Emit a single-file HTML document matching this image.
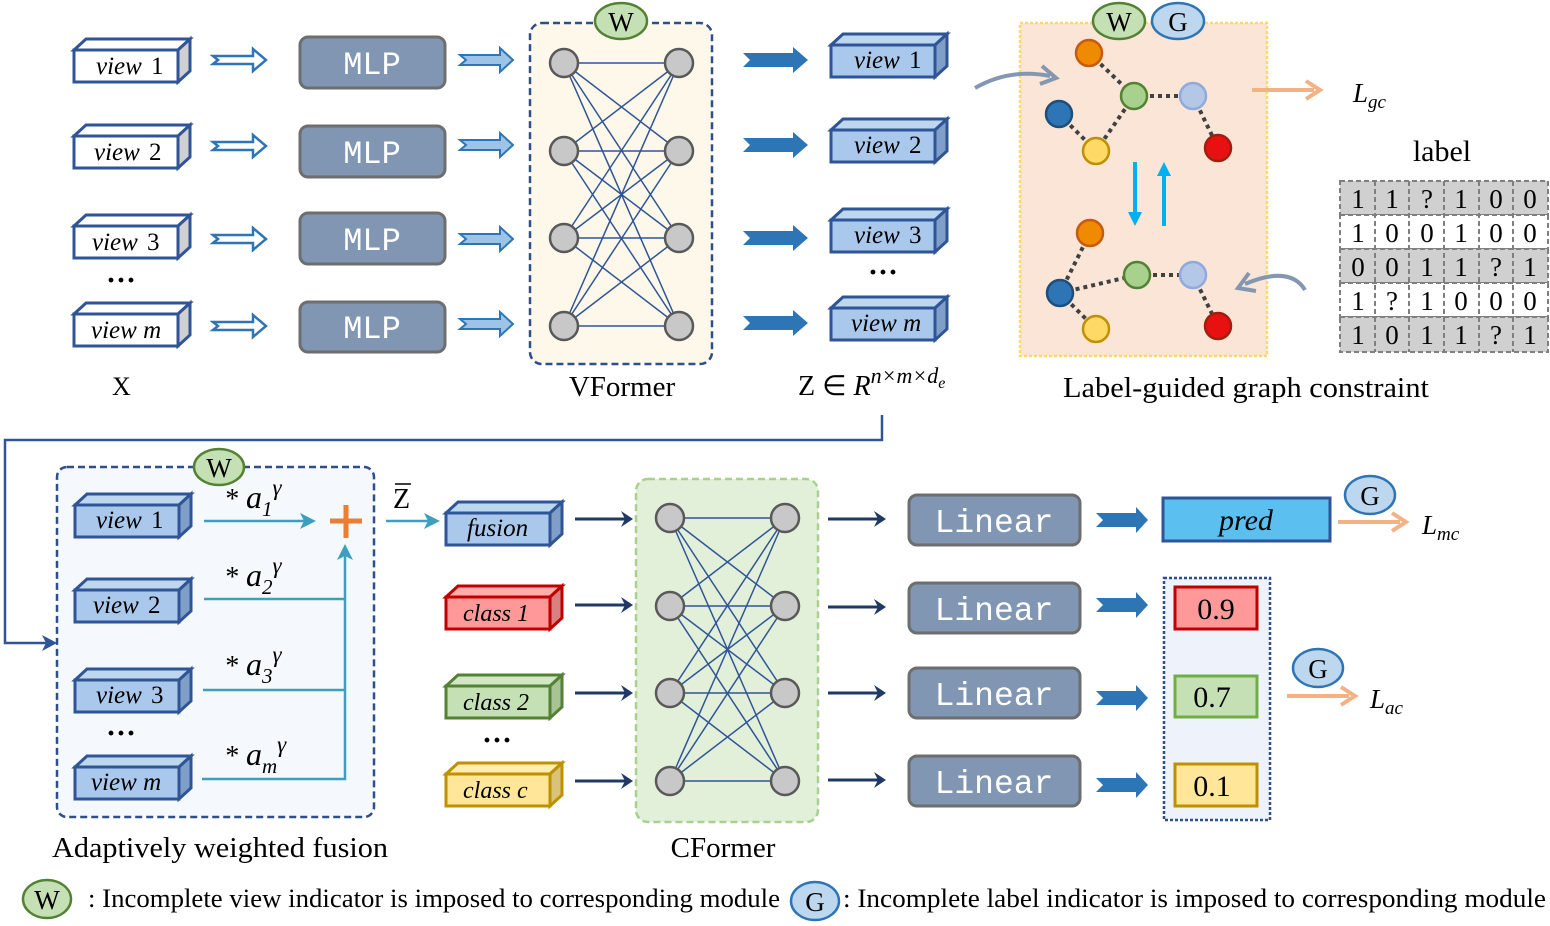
<!DOCTYPE html>
<html><head><meta charset="utf-8"><style>
html,body{margin:0;padding:0;background:#fff;}
svg{display:block;}
.t{font-family:"Liberation Serif",serif;fill:#000;}
.i{font-family:"Liberation Serif",serif;font-style:italic;fill:#000;}
.m{font-family:"Liberation Mono",monospace;fill:#fff;}
</style></head><body>
<svg width="1550" height="926" viewBox="0 0 1550 926" xmlns="http://www.w3.org/2000/svg">
<defs>
<g id="wbox"><rect x="0" y="0" width="104" height="32" fill="#fff" stroke="#2f5597" stroke-width="3"/><polygon points="0,0 12,-11 116,-11 104,0" fill="#fff" stroke="#2f5597" stroke-width="3"/><polygon points="104,0 116,-11 116,21 104,32" fill="#d0d0d0" stroke="#2f5597" stroke-width="3"/></g>
<g id="bbox"><rect x="0" y="0" width="104" height="32" fill="#a9c8ec" stroke="#2f5597" stroke-width="3"/><polygon points="0,0 12,-11 116,-11 104,0" fill="#bdd7ee" stroke="#2f5597" stroke-width="3"/><polygon points="104,0 116,-11 116,21 104,32" fill="#7f9fc8" stroke="#2f5597" stroke-width="3"/></g>
<g id="rbox"><rect x="0" y="0" width="104" height="32" fill="#ff9999" stroke="#c00000" stroke-width="3"/><polygon points="0,0 12,-11 116,-11 104,0" fill="#ffadad" stroke="#c00000" stroke-width="3"/><polygon points="104,0 116,-11 116,21 104,32" fill="#d98080" stroke="#c00000" stroke-width="3"/></g>
<g id="gbox"><rect x="0" y="0" width="104" height="32" fill="#c5e0b4" stroke="#548235" stroke-width="3"/><polygon points="0,0 12,-11 116,-11 104,0" fill="#d2e8c4" stroke="#548235" stroke-width="3"/><polygon points="104,0 116,-11 116,21 104,32" fill="#a8c496" stroke="#548235" stroke-width="3"/></g>
<g id="ybox"><rect x="0" y="0" width="104" height="32" fill="#ffe699" stroke="#bf9000" stroke-width="3"/><polygon points="0,0 12,-11 116,-11 104,0" fill="#ffeeb0" stroke="#bf9000" stroke-width="3"/><polygon points="104,0 116,-11 116,21 104,32" fill="#d9c27a" stroke="#bf9000" stroke-width="3"/></g>
<g id="hollow"><polygon points="0,-4 40,-4 40,-11 53,0 40,11 40,4 0,4 5,0" fill="#fff" stroke="#2e75b6" stroke-width="2.5"/></g>
<g id="lblue"><polygon points="0,-5 40,-5 40,-12 53,0 40,12 40,5 0,5 6,0" fill="#9dc3e6" stroke="#2e75b6" stroke-width="2"/></g>
<g id="dblue"><polygon points="0,-7 50,-7 50,-13 65,0 50,13 50,7 0,7 7,0" fill="#2e75b6"/></g>
<g id="tblue"><polygon points="0,-7 40,-7 40,-13 52,0 40,13 40,7 0,7 7,0" fill="#2e75b6"/></g>
<g id="narr"><line x1="0" y1="0" x2="54" y2="0" stroke="#1f3864" stroke-width="3"/><polygon points="46,-8 58,0 46,8 50,0" fill="#1f3864"/></g>
<g id="oarr"><line x1="0" y1="0" x2="62" y2="0" stroke="#f4b183" stroke-width="4"/><polyline points="54,-9 68,0 54,9" fill="none" stroke="#f4b183" stroke-width="4"/></g>
</defs>

<!-- Top: X views -->
<use href="#wbox" x="74" y="50"/><text class="i" x="96" y="74" font-size="25">view</text><text class="t" x="151" y="74" font-size="25">1</text>
<use href="#wbox" x="74" y="136"/><text class="i" x="94" y="160" font-size="25">view</text><text class="t" x="149" y="160" font-size="25">2</text>
<use href="#wbox" x="74" y="226"/><text class="i" x="92" y="250" font-size="25">view</text><text class="t" x="147" y="250" font-size="25">3</text>
<use href="#wbox" x="74" y="314"/><text class="i" x="91" y="338" font-size="25">view m</text>
<text class="t" x="106" y="290" font-size="30" font-weight="bold">···</text>
<text class="t" x="112" y="395" font-size="26">X</text>

<use href="#hollow" x="213" y="60"/><use href="#hollow" x="213" y="146"/><use href="#hollow" x="213" y="239"/><use href="#hollow" x="213" y="326"/>

<g fill="#8096b2" stroke="#6e6e6e" stroke-width="3">
<rect x="300" y="37" width="145" height="51" rx="8"/><rect x="300" y="126" width="145" height="51" rx="8"/><rect x="300" y="213" width="145" height="51" rx="8"/><rect x="300" y="302" width="145" height="50" rx="8"/>
</g>
<g class="m" font-size="32" text-anchor="middle"><text x="372" y="74">MLP</text><text x="372" y="163">MLP</text><text x="372" y="250">MLP</text><text x="372" y="338">MLP</text></g>

<use href="#lblue" x="460" y="60"/><use href="#lblue" x="460" y="145"/><use href="#lblue" x="460" y="239"/><use href="#lblue" x="460" y="324"/>

<!-- VFormer -->
<rect x="530" y="23" width="182" height="341" rx="12" fill="#fdf8ea" stroke="#2f4f8a" stroke-width="2.5" stroke-dasharray="7,4"/>
<g stroke="#2f5597" stroke-width="1.5">
<line x1="564" y1="63" x2="679" y2="63"/><line x1="564" y1="63" x2="679" y2="151"/><line x1="564" y1="63" x2="679" y2="238"/><line x1="564" y1="63" x2="679" y2="326"/>
<line x1="564" y1="151" x2="679" y2="63"/><line x1="564" y1="151" x2="679" y2="151"/><line x1="564" y1="151" x2="679" y2="238"/><line x1="564" y1="151" x2="679" y2="326"/>
<line x1="564" y1="238" x2="679" y2="63"/><line x1="564" y1="238" x2="679" y2="151"/><line x1="564" y1="238" x2="679" y2="238"/><line x1="564" y1="238" x2="679" y2="326"/>
<line x1="564" y1="326" x2="679" y2="63"/><line x1="564" y1="326" x2="679" y2="151"/><line x1="564" y1="326" x2="679" y2="238"/><line x1="564" y1="326" x2="679" y2="326"/>
</g>
<g fill="#c8c8c8" stroke="#595959" stroke-width="2.5">
<circle cx="564" cy="63" r="14"/><circle cx="564" cy="151" r="14"/><circle cx="564" cy="238" r="14"/><circle cx="564" cy="326" r="14"/>
<circle cx="679" cy="63" r="14"/><circle cx="679" cy="151" r="14"/><circle cx="679" cy="238" r="14"/><circle cx="679" cy="326" r="14"/>
</g>
<ellipse cx="621" cy="21" rx="26" ry="18" fill="#c5e0b4" stroke="#548235" stroke-width="2.5"/><text class="t" x="621" y="31" font-size="27" text-anchor="middle">W</text>
<text class="t" x="622" y="396" font-size="29" text-anchor="middle">VFormer</text>

<use href="#dblue" x="743" y="60"/><use href="#dblue" x="743" y="145"/><use href="#dblue" x="743" y="238"/><use href="#dblue" x="743" y="323"/>

<use href="#bbox" x="831" y="45"/><text class="i" x="854" y="68" font-size="25">view</text><text class="t" x="909" y="68" font-size="25">1</text>
<use href="#bbox" x="831" y="130"/><text class="i" x="854" y="153" font-size="25">view</text><text class="t" x="909" y="153" font-size="25">2</text>
<use href="#bbox" x="831" y="220"/><text class="i" x="854" y="243" font-size="25">view</text><text class="t" x="909" y="243" font-size="25">3</text>
<use href="#bbox" x="831" y="308"/><text class="i" x="851" y="331" font-size="25">view m</text>
<text class="t" x="868" y="282" font-size="30" font-weight="bold">···</text>
<text class="t" x="798" y="395" font-size="28">Z ∈ <tspan class="i">R</tspan><tspan font-size="22" dy="-12" class="i">n×m×d</tspan><tspan font-size="16" dy="5" class="i">e</tspan></text>

<!-- connector -->
<polyline points="882,415 882,440 5,440 5,643 50,643" fill="none" stroke="#2f5597" stroke-width="2.5"/>
<polygon points="42,635 57,643 42,651 46,643" fill="#2f5597"/>

<!-- Graph constraint -->
<rect x="1020" y="23" width="247" height="333" fill="#fbe5d6" stroke="#ffd966" stroke-width="2.5" stroke-dasharray="3,2"/>
<g stroke="#404040" stroke-width="4" stroke-dasharray="4,4">
<line x1="1089" y1="53" x2="1134" y2="96"/><line x1="1134" y1="96" x2="1096" y2="151"/><line x1="1059" y1="114" x2="1096" y2="151"/><line x1="1134" y1="96" x2="1193" y2="96"/><line x1="1193" y1="96" x2="1218" y2="148"/>
<line x1="1090" y1="233" x2="1060" y2="293"/><line x1="1060" y1="293" x2="1137" y2="275"/><line x1="1137" y1="275" x2="1193" y2="275"/><line x1="1060" y1="293" x2="1096" y2="329"/><line x1="1193" y1="275" x2="1218" y2="326"/>
</g>
<g stroke-width="2.5">
<circle cx="1089" cy="53" r="13" fill="#f08a00" stroke="#c55a11"/><circle cx="1134" cy="96" r="13" fill="#a9d18e" stroke="#548235"/><circle cx="1193" cy="96" r="13" fill="#b4c7e7" stroke="#8faadc"/><circle cx="1059" cy="114" r="13" fill="#2e75b6" stroke="#1f4e79"/><circle cx="1096" cy="151" r="13" fill="#ffd966" stroke="#bf9000"/><circle cx="1218" cy="148" r="13" fill="#e81010" stroke="#a02010"/>
<circle cx="1090" cy="233" r="13" fill="#f08a00" stroke="#c55a11"/><circle cx="1137" cy="275" r="13" fill="#a9d18e" stroke="#548235"/><circle cx="1193" cy="275" r="13" fill="#b4c7e7" stroke="#8faadc"/><circle cx="1060" cy="293" r="13" fill="#2e75b6" stroke="#1f4e79"/><circle cx="1096" cy="329" r="13" fill="#ffd966" stroke="#bf9000"/><circle cx="1218" cy="326" r="13" fill="#e81010" stroke="#a02010"/>
</g>
<g stroke="#00b0f0" stroke-width="4" fill="#00b0f0">
<line x1="1135" y1="162" x2="1135" y2="215"/><polygon points="1128,212 1142,212 1135,226" stroke="none"/>
<line x1="1164" y1="226" x2="1164" y2="173"/><polygon points="1157,176 1171,176 1164,162" stroke="none"/>
</g>
<path d="M975,88 Q1010,68 1050,76" fill="none" stroke="#8497b0" stroke-width="4"/><polyline points="1042,66 1056,78 1040,84" fill="none" stroke="#8497b0" stroke-width="4"/>
<path d="M1305,290 Q1290,265 1245,284" fill="none" stroke="#8497b0" stroke-width="4"/><polyline points="1249,273 1238,288 1256,291" fill="none" stroke="#8497b0" stroke-width="4"/>
<ellipse cx="1119" cy="21" rx="26" ry="18" fill="#c5e0b4" stroke="#548235" stroke-width="2.5"/><text class="t" x="1119" y="31" font-size="27" text-anchor="middle">W</text>
<ellipse cx="1178" cy="21" rx="26" ry="18" fill="#bdd7ee" stroke="#2e75b6" stroke-width="2.5"/><text class="t" x="1178" y="31" font-size="27" text-anchor="middle">G</text>
<use href="#oarr" x="1252" y="90"/>
<text class="i" x="1353" y="102" font-size="27">L<tspan font-size="19" dy="6">gc</tspan></text>
<text class="t" x="1442" y="161" font-size="30" text-anchor="middle">label</text>

<!-- label table -->
<g stroke="#7f7f7f" stroke-width="2" stroke-dasharray="5,3">
<rect x="1340" y="181" width="208" height="34" fill="#d0d0d0"/>
<rect x="1340" y="215" width="208" height="34" fill="#fff"/>
<rect x="1340" y="249" width="208" height="34" fill="#d0d0d0"/>
<rect x="1340" y="283" width="208" height="34" fill="#fff"/>
<rect x="1340" y="317" width="208" height="35" fill="#d0d0d0"/>
<line x1="1375" y1="181" x2="1375" y2="352"/><line x1="1409" y1="181" x2="1409" y2="352"/><line x1="1444" y1="181" x2="1444" y2="352"/><line x1="1479" y1="181" x2="1479" y2="352"/><line x1="1513" y1="181" x2="1513" y2="352"/>
</g>
<g class="t" font-size="27" text-anchor="middle">
<text x="1358" y="208">1</text><text x="1392" y="208">1</text><text x="1427" y="208">?</text><text x="1461" y="208">1</text><text x="1496" y="208">0</text><text x="1530" y="208">0</text>
<text x="1358" y="242">1</text><text x="1392" y="242">0</text><text x="1427" y="242">0</text><text x="1461" y="242">1</text><text x="1496" y="242">0</text><text x="1530" y="242">0</text>
<text x="1358" y="276">0</text><text x="1392" y="276">0</text><text x="1427" y="276">1</text><text x="1461" y="276">1</text><text x="1496" y="276">?</text><text x="1530" y="276">1</text>
<text x="1358" y="310">1</text><text x="1392" y="310">?</text><text x="1427" y="310">1</text><text x="1461" y="310">0</text><text x="1496" y="310">0</text><text x="1530" y="310">0</text>
<text x="1358" y="344">1</text><text x="1392" y="344">0</text><text x="1427" y="344">1</text><text x="1461" y="344">1</text><text x="1496" y="344">?</text><text x="1530" y="344">1</text>
</g>
<text class="t" x="1246" y="397" font-size="29" text-anchor="middle" textLength="366" lengthAdjust="spacingAndGlyphs">Label-guided graph constraint</text>

<!-- Adaptive fusion -->
<rect x="57" y="467" width="317" height="350" rx="10" fill="#f5f8fc" stroke="#2f4f8a" stroke-width="2.5" stroke-dasharray="7,4"/>
<use href="#bbox" x="75" y="505"/><text class="i" x="96" y="528" font-size="25">view</text><text class="t" x="151" y="528" font-size="25">1</text>
<use href="#bbox" x="75" y="590"/><text class="i" x="93" y="613" font-size="25">view</text><text class="t" x="148" y="613" font-size="25">2</text>
<use href="#bbox" x="75" y="680"/><text class="i" x="96" y="703" font-size="25">view</text><text class="t" x="151" y="703" font-size="25">3</text>
<use href="#bbox" x="75" y="767"/><text class="i" x="91" y="790" font-size="25">view m</text>
<text class="t" x="106" y="743" font-size="30" font-weight="bold">···</text>
<g stroke="#3d9fbf" stroke-width="2.5" fill="none">
<line x1="204" y1="521" x2="308" y2="521"/>
<polyline points="204,599 345,599"/><polyline points="203,690 345,690"/><polyline points="202,779 345,779 345,555"/>
</g>
<polygon points="300,513 316,521 300,529 304,521" fill="#3d9fbf"/>
<polygon points="337,560 345,544 353,560 345,556" fill="#3d9fbf"/>
<g stroke="#ed7d31" stroke-width="5"><line x1="330" y1="521" x2="362" y2="521"/><line x1="346" y1="505" x2="346" y2="538"/></g>
<g class="i" font-size="32">
<text x="224" y="508"><tspan class="t" font-size="28">*</tspan> a<tspan font-size="21" dy="8">1</tspan><tspan font-size="23" dy="-21">γ</tspan></text>
<text x="224" y="586"><tspan class="t" font-size="28">*</tspan> a<tspan font-size="21" dy="8">2</tspan><tspan font-size="23" dy="-21">γ</tspan></text>
<text x="224" y="675"><tspan class="t" font-size="28">*</tspan> a<tspan font-size="21" dy="8">3</tspan><tspan font-size="23" dy="-21">γ</tspan></text>
<text x="224" y="765"><tspan class="t" font-size="28">*</tspan> a<tspan font-size="21" dy="8">m</tspan><tspan font-size="23" dy="-21">γ</tspan></text>
</g>
<ellipse cx="219" cy="467" rx="25" ry="18" fill="#c5e0b4" stroke="#548235" stroke-width="2.5"/><text class="t" x="219" y="477" font-size="27" text-anchor="middle">W</text>
<text class="t" x="220" y="857" font-size="29" text-anchor="middle" textLength="336" lengthAdjust="spacingAndGlyphs">Adaptively weighted fusion</text>

<text class="t" x="393" y="508" font-size="28">Z</text><line x1="395" y1="484" x2="411" y2="484" stroke="#000" stroke-width="1.5"/>
<line x1="386" y1="521" x2="430" y2="521" stroke="#3d9fbf" stroke-width="2.5"/><polygon points="424,513 440,521 424,529 428,521" fill="#3d9fbf"/>

<use href="#bbox" x="446" y="513"/><text class="i" x="467" y="536" font-size="25">fusion</text>
<use href="#rbox" x="446" y="597"/><text class="i" x="463" y="621" font-size="24">class 1</text>
<use href="#gbox" x="446" y="686"/><text class="i" x="463" y="710" font-size="24">class 2</text>
<use href="#ybox" x="446" y="774"/><text class="i" x="463" y="798" font-size="24">class c</text>
<text class="t" x="482" y="750" font-size="30" font-weight="bold">···</text>

<use href="#narr" x="575" y="519"/><use href="#narr" x="575" y="605"/><use href="#narr" x="575" y="693"/><use href="#narr" x="575" y="781"/>

<!-- CFormer -->
<rect x="636" y="479" width="182" height="343" rx="12" fill="#e2efd9" stroke="#a9d18e" stroke-width="2.5" stroke-dasharray="7,4"/>
<g stroke="#2f5597" stroke-width="1.5">
<line x1="670" y1="518" x2="785" y2="518"/><line x1="670" y1="518" x2="785" y2="606"/><line x1="670" y1="518" x2="785" y2="693"/><line x1="670" y1="518" x2="785" y2="781"/>
<line x1="670" y1="606" x2="785" y2="518"/><line x1="670" y1="606" x2="785" y2="606"/><line x1="670" y1="606" x2="785" y2="693"/><line x1="670" y1="606" x2="785" y2="781"/>
<line x1="670" y1="693" x2="785" y2="518"/><line x1="670" y1="693" x2="785" y2="606"/><line x1="670" y1="693" x2="785" y2="693"/><line x1="670" y1="693" x2="785" y2="781"/>
<line x1="670" y1="781" x2="785" y2="518"/><line x1="670" y1="781" x2="785" y2="606"/><line x1="670" y1="781" x2="785" y2="693"/><line x1="670" y1="781" x2="785" y2="781"/>
</g>
<g fill="#c8c8c8" stroke="#595959" stroke-width="2.5">
<circle cx="670" cy="518" r="14"/><circle cx="670" cy="606" r="14"/><circle cx="670" cy="693" r="14"/><circle cx="670" cy="781" r="14"/>
<circle cx="785" cy="518" r="14"/><circle cx="785" cy="606" r="14"/><circle cx="785" cy="693" r="14"/><circle cx="785" cy="781" r="14"/>
</g>
<text class="t" x="723" y="857" font-size="29" text-anchor="middle">CFormer</text>

<use href="#narr" x="828" y="519"/><use href="#narr" x="828" y="607"/><use href="#narr" x="828" y="693"/><use href="#narr" x="828" y="780"/>

<g fill="#8096b2" stroke="#6e6e6e" stroke-width="3">
<rect x="909" y="495" width="171" height="50" rx="8"/><rect x="909" y="583" width="171" height="50" rx="8"/><rect x="909" y="668" width="171" height="50" rx="8"/><rect x="909" y="756" width="171" height="50" rx="8"/>
</g>
<g class="m" font-size="33" text-anchor="middle"><text x="994" y="532">Linear</text><text x="994" y="620">Linear</text><text x="994" y="705">Linear</text><text x="994" y="793">Linear</text></g>

<use href="#tblue" x="1096" y="520"/><use href="#tblue" x="1096" y="605"/><use href="#tblue" x="1096" y="698"/><use href="#tblue" x="1096" y="785"/>

<rect x="1163" y="498" width="167" height="43" fill="#5bc0f0" stroke="#2f5597" stroke-width="3"/>
<text class="i" x="1246" y="530" font-size="30" text-anchor="middle">pred</text>
<ellipse cx="1370" cy="495" rx="25" ry="19" fill="#bdd7ee" stroke="#2e75b6" stroke-width="2.5"/><text class="t" x="1370" y="505" font-size="27" text-anchor="middle">G</text>
<use href="#oarr" x="1338" y="522"/>
<text class="i" x="1422" y="534" font-size="27">L<tspan font-size="19" dy="6">mc</tspan></text>

<rect x="1164" y="578" width="106" height="242" fill="#eef2fa" stroke="#2f4f8a" stroke-width="2.5" stroke-dasharray="3,2"/>
<rect x="1175" y="587" width="82" height="42" fill="#ff9999" stroke="#c00000" stroke-width="3"/><text class="t" x="1216" y="619" font-size="30" text-anchor="middle">0.9</text>
<rect x="1175" y="676" width="82" height="41" fill="#c5e0b4" stroke="#70ad47" stroke-width="3"/><text class="t" x="1212" y="707" font-size="30" text-anchor="middle">0.7</text>
<rect x="1175" y="764" width="82" height="42" fill="#ffe699" stroke="#bf9000" stroke-width="3"/><text class="t" x="1212" y="796" font-size="30" text-anchor="middle">0.1</text>
<ellipse cx="1318" cy="668" rx="25" ry="19" fill="#bdd7ee" stroke="#2e75b6" stroke-width="2.5"/><text class="t" x="1318" y="678" font-size="27" text-anchor="middle">G</text>
<use href="#oarr" x="1287" y="696"/>
<text class="i" x="1370" y="708" font-size="27">L<tspan font-size="19" dy="6">ac</tspan></text>

<!-- Legend -->
<ellipse cx="47" cy="899" rx="24" ry="19" fill="#c5e0b4" stroke="#548235" stroke-width="2.5"/><text class="t" x="47" y="909" font-size="27" text-anchor="middle">W</text>
<text class="t" x="88" y="907" font-size="26" textLength="692" lengthAdjust="spacingAndGlyphs">: Incomplete view indicator is imposed to corresponding module</text>
<ellipse cx="815" cy="901" rx="24" ry="19" fill="#bdd7ee" stroke="#2e75b6" stroke-width="2.5"/><text class="t" x="815" y="911" font-size="27" text-anchor="middle">G</text>
<text class="t" x="843" y="907" font-size="26" textLength="703" lengthAdjust="spacingAndGlyphs">: Incomplete label indicator is imposed to corresponding module</text>
</svg>
</body></html>
